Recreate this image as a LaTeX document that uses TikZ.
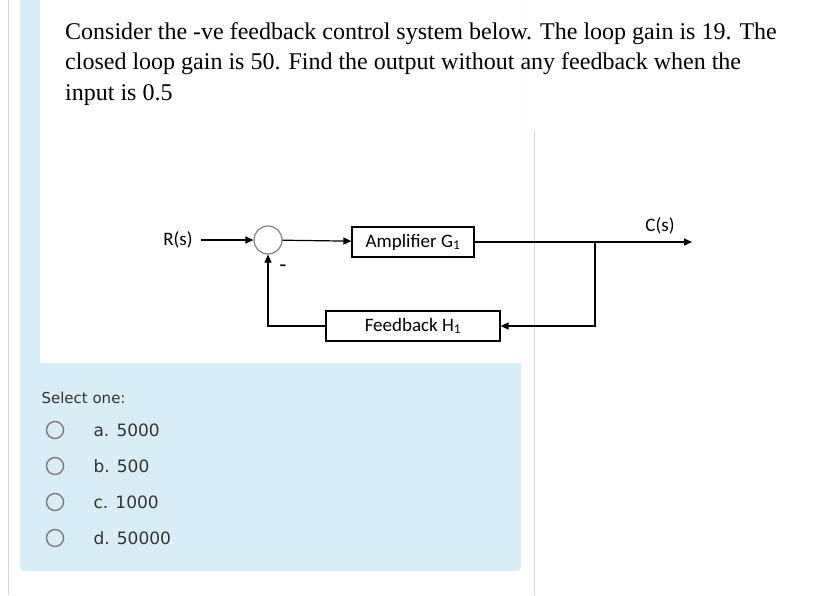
\documentclass[tikz,border=0pt]{standalone}
\usepackage{fontspec}
\setmainfont{Liberation Serif}
\newfontfamily\diag{Carlito}
\newfontfamily\ui{DejaVu Sans}
\usetikzlibrary{arrows.meta}
\definecolor{panel}{HTML}{D9EDF7}
\definecolor{txt}{HTML}{333333}
\begin{document}
\begin{tikzpicture}[x=1pt,y=-1pt,
  blk/.style={draw,line width=1.2pt,minimum height=30pt,inner sep=3pt,font=\diag\fontsize{19}{22}\selectfont},
  sig/.style={line width=1.2pt,-{Triangle[length=8pt,width=7pt]}},
  radio/.style={circle,draw=gray,line width=1.5pt,minimum size=17pt,inner sep=0pt}]
\useasboundingbox (0,0) rectangle (828,595);
\fill[white] (0,0) rectangle (828,595);
\draw[gray!30] (8,0) -- (8,595);
\draw[gray!30] (534,130) -- (534,595);
\fill[panel,rounded corners=4pt] (20,-10) rectangle (521,571);
\fill[white] (40,0) rectangle (521,363);
% question
\node[anchor=north west,align=left,inner sep=0pt,
  font=\fontsize{24}{30.5}\selectfont] (q) at (65,22)
  {Consider the -ve feedback control system below. The loop gain is 19. The\\
   closed loop gain is 50. Find the output without any feedback when the\\
   input is 0.5};
% block diagram
\node[font=\diag\fontsize{19}{22}\selectfont] (r) at (178,240) {R(s)};
\node[circle,draw=gray,line width=1.2pt,minimum size=28pt,inner sep=0pt] (sum) at (268,240) {};
\node[blk,minimum width=122pt] (g) at (413,242) {Amplifier G\textsubscript{1}};
\node[blk,minimum width=174pt] (h) at (413,326) {Feedback H\textsubscript{1}};
\coordinate (out) at (692,242);
\coordinate (br) at (595,242);
\coordinate (fb) at (268,326);
\node[font=\diag\fontsize{19}{22}\selectfont] (c) at (660,226) {C(s)};
\node[font=\bfseries\fontsize{20}{20}\selectfont] (m) at (283,268) {-};
\draw[sig,shorten <=5pt] (r) -- (sum);
\draw[sig] (sum) -- (g);
\draw[sig] (g) -- (out);
\draw[sig] (br) |- (h);
\draw[sig] (h) -- (fb) -- (sum);
% options
\node[anchor=west,font=\ui\fontsize{15}{18}\selectfont,text=txt] (sel) at (38,398) {Select one:};
\foreach \y/\t [count=\i] in {430/a. 5000,466/b. 500,502/c. 1000,538/d. 50000}{
  \node[radio] (o\i) at (55,\y) {};
  \node[anchor=west,font=\ui\fontsize{17}{20}\selectfont,text=txt] (t\i) at (90,\y) {\t};
}
\end{tikzpicture}
\end{document}
